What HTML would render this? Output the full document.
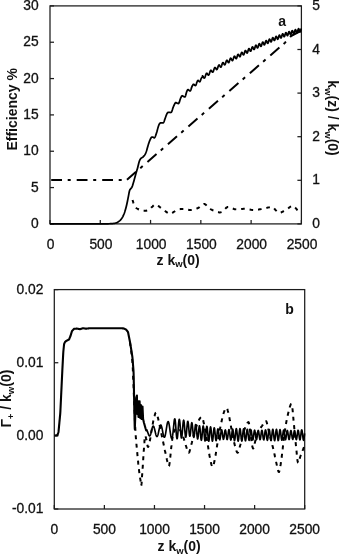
<!DOCTYPE html>
<html><head><meta charset="utf-8"><title>Figure</title>
<style>
html,body{margin:0;padding:0;background:#fff;}
body{width:340px;height:554px;overflow:hidden;}
svg{display:block;}
text{font-family:"Liberation Sans",sans-serif;fill:#111;}
.t{font-size:13.8px;stroke:#111;stroke-width:0.3px;}
.b{font-size:14px;font-weight:bold;}
.ax line,.ax rect{stroke:#1c1c1c;stroke-width:1.25;fill:none;}
.c{fill:none;stroke:#000;stroke-width:2;stroke-linejoin:round;stroke-linecap:butt;}
</style></head><body>
<svg width="340" height="554" viewBox="0 0 340 554">
<rect width="340" height="554" fill="#fff"/>
<g class="ax">
<rect x="50.0" y="5.9" width="251.39999999999998" height="218.0"/>
<line x1="50.0" y1="223.90" x2="54.0" y2="223.90"/><line x1="50.0" y1="187.57" x2="54.0" y2="187.57"/><line x1="50.0" y1="151.23" x2="54.0" y2="151.23"/><line x1="50.0" y1="114.90" x2="54.0" y2="114.90"/><line x1="50.0" y1="78.57" x2="54.0" y2="78.57"/><line x1="50.0" y1="42.23" x2="54.0" y2="42.23"/><line x1="50.0" y1="5.90" x2="54.0" y2="5.90"/><line x1="301.4" y1="223.90" x2="297.4" y2="223.90"/><line x1="301.4" y1="180.30" x2="297.4" y2="180.30"/><line x1="301.4" y1="136.70" x2="297.4" y2="136.70"/><line x1="301.4" y1="93.10" x2="297.4" y2="93.10"/><line x1="301.4" y1="49.50" x2="297.4" y2="49.50"/><line x1="301.4" y1="5.90" x2="297.4" y2="5.90"/><line x1="50.00" y1="223.9" x2="50.00" y2="219.9"/><line x1="100.28" y1="223.9" x2="100.28" y2="219.9"/><line x1="150.56" y1="223.9" x2="150.56" y2="219.9"/><line x1="200.84" y1="223.9" x2="200.84" y2="219.9"/><line x1="251.12" y1="223.9" x2="251.12" y2="219.9"/><line x1="301.40" y1="223.9" x2="301.40" y2="219.9"/>
<rect x="54.3" y="289.6" width="250.39999999999998" height="219.39999999999998"/>
<line x1="54.3" y1="509.00" x2="58.3" y2="509.00"/><line x1="54.3" y1="435.87" x2="58.3" y2="435.87"/><line x1="54.3" y1="362.73" x2="58.3" y2="362.73"/><line x1="54.3" y1="289.60" x2="58.3" y2="289.60"/><line x1="54.30" y1="509.0" x2="54.30" y2="505.0"/><line x1="104.38" y1="509.0" x2="104.38" y2="505.0"/><line x1="154.46" y1="509.0" x2="154.46" y2="505.0"/><line x1="204.54" y1="509.0" x2="204.54" y2="505.0"/><line x1="254.62" y1="509.0" x2="254.62" y2="505.0"/><line x1="304.70" y1="509.0" x2="304.70" y2="505.0"/>
</g>
<text class="t" x="38.6" y="227.9" text-anchor="end">0</text><text class="t" x="38.6" y="191.6" text-anchor="end">5</text><text class="t" x="38.6" y="155.2" text-anchor="end">10</text><text class="t" x="38.6" y="118.9" text-anchor="end">15</text><text class="t" x="38.6" y="82.6" text-anchor="end">20</text><text class="t" x="38.6" y="46.2" text-anchor="end">25</text><text class="t" x="38.6" y="9.9" text-anchor="end">30</text><text class="t" x="312.3" y="227.9">0</text><text class="t" x="312.3" y="184.3">1</text><text class="t" x="312.3" y="140.7">2</text><text class="t" x="312.3" y="97.1">3</text><text class="t" x="312.3" y="53.5">4</text><text class="t" x="312.3" y="9.9">5</text><text class="t" x="50.6" y="248.8" text-anchor="middle">0</text><text class="t" x="100.9" y="248.8" text-anchor="middle">500</text><text class="t" x="151.2" y="248.8" text-anchor="middle">1000</text><text class="t" x="201.4" y="248.8" text-anchor="middle">1500</text><text class="t" x="251.7" y="248.8" text-anchor="middle">2000</text><text class="t" x="302.0" y="248.8" text-anchor="middle">2500</text><text class="t" x="43.4" y="513.3" text-anchor="end">-0.01</text><text class="t" x="43.4" y="440.2" text-anchor="end">0.00</text><text class="t" x="43.4" y="367.0" text-anchor="end">0.01</text><text class="t" x="43.4" y="293.9" text-anchor="end">0.02</text><text class="t" x="54.3" y="534.4" text-anchor="middle">0</text><text class="t" x="104.4" y="534.4" text-anchor="middle">500</text><text class="t" x="154.5" y="534.4" text-anchor="middle">1000</text><text class="t" x="204.5" y="534.4" text-anchor="middle">1500</text><text class="t" x="254.6" y="534.4" text-anchor="middle">2000</text><text class="t" x="304.7" y="534.4" text-anchor="middle">2500</text>
<path class="c" d="M50,180 L126.6,180" stroke-dasharray="10.8 5.7 3 6" stroke-dashoffset="24.3"/>
<path class="c" d="M126.6,180 L285,42.7 L291,36 L301.4,30.6" stroke-dasharray="12 5.6 3.2 6.3" stroke-dashoffset="26.6"/>
<path class="c" d="M132.2,199.0 L132.4,199.6 L132.7,200.5 L133.0,201.5 L133.3,202.6 L133.7,203.6 L134.0,204.5 L134.3,205.2 L134.6,205.9 L134.8,206.4 L135.2,207.0 L135.6,207.5 L136.2,208.0 L137.0,208.5 L137.9,209.0 L138.9,209.5 L139.9,209.9 L141.0,210.3 L142.0,210.5 L143.0,210.7 L144.1,210.7 L145.1,210.8 L146.1,210.7 L147.1,210.5 L148.0,210.3 L148.8,209.9 L149.5,209.4 L150.2,208.8 L150.8,208.2 L151.4,207.5 L152.0,207.0 L152.6,206.5 L153.1,205.9 L153.6,205.3 L154.1,204.9 L154.7,204.5 L155.3,204.4 L156.0,204.5 L156.7,204.8 L157.4,205.3 L158.1,205.8 L158.9,206.4 L159.7,207.0 L160.5,207.6 L161.4,208.3 L162.3,209.0 L163.2,209.7 L164.1,210.4 L165.0,211.0 L165.9,211.6 L166.7,212.2 L167.6,212.8 L168.4,213.3 L169.2,213.6 L170.0,213.8 L170.8,213.7 L171.5,213.4 L172.3,213.0 L173.0,212.4 L173.8,211.9 L174.5,211.5 L175.2,211.1 L175.9,210.7 L176.6,210.3 L177.3,210.0 L178.0,209.6 L178.8,209.4 L179.6,209.2 L180.4,209.1 L181.3,209.0 L182.1,209.0 L183.0,209.0 L184.0,209.0 L185.0,209.1 L186.1,209.3 L187.2,209.6 L188.3,209.8 L189.4,210.0 L190.6,210.0 L191.8,209.9 L193.1,209.6 L194.3,209.3 L195.6,208.9 L196.8,208.5 L198.0,208.0 L199.1,207.4 L200.1,206.6 L201.1,205.7 L202.1,204.9 L203.0,204.3 L203.8,204.0 L204.5,204.0 L205.2,204.3 L205.8,204.8 L206.4,205.4 L206.9,206.0 L207.5,206.5 L208.1,207.0 L208.7,207.5 L209.2,208.0 L209.8,208.5 L210.4,209.0 L211.0,209.4 L211.6,209.7 L212.2,210.0 L212.9,210.3 L213.6,210.5 L214.3,210.8 L215.0,211.0 L215.8,211.3 L216.7,211.6 L217.7,212.0 L218.6,212.2 L219.5,212.4 L220.3,212.4 L221.0,212.2 L221.7,211.9 L222.3,211.5 L222.8,211.0 L223.4,210.5 L224.0,210.0 L224.6,209.5 L225.2,208.9 L225.8,208.3 L226.3,207.7 L227.0,207.3 L227.6,207.0 L228.3,207.0 L229.0,207.1 L229.7,207.4 L230.5,207.7 L231.3,208.0 L232.0,208.3 L232.7,208.5 L233.3,208.7 L234.0,209.0 L234.7,209.2 L235.5,209.3 L236.5,209.4 L237.7,209.4 L239.1,209.3 L240.6,209.1 L242.2,208.9 L243.8,208.8 L245.3,208.8 L246.8,208.9 L248.2,209.2 L249.6,209.4 L251.1,209.7 L252.5,209.9 L254.0,210.0 L255.5,209.9 L257.0,209.8 L258.5,209.6 L260.0,209.3 L261.5,209.1 L263.0,208.8 L264.5,208.5 L266.1,208.1 L267.7,207.6 L269.3,207.3 L270.6,207.0 L271.8,207.0 L272.7,207.2 L273.4,207.6 L274.0,208.2 L274.5,208.8 L275.0,209.4 L275.5,210.0 L276.1,210.6 L276.7,211.2 L277.2,211.8 L277.8,212.3 L278.4,212.8 L279.0,213.0 L279.6,213.0 L280.3,212.9 L281.0,212.6 L281.6,212.2 L282.3,211.8 L283.0,211.5 L283.7,211.2 L284.4,210.9 L285.1,210.5 L285.7,210.1 L286.4,209.8 L287.0,209.4 L287.6,209.0 L288.1,208.6 L288.6,208.1 L289.0,207.7 L289.5,207.3 L290.0,207.0 L290.5,206.7 L291.1,206.4 L291.6,206.1 L292.2,205.9 L292.7,205.9 L293.2,205.9 L293.7,206.1 L294.2,206.5 L294.6,206.9 L295.1,207.5 L295.6,208.0 L296.0,208.5 L296.4,209.0 L296.9,209.5 L297.3,210.1 L297.7,210.6 L298.1,211.1 L298.5,211.5 L298.9,211.8 L299.4,212.1 L299.8,212.3 L300.2,212.5 L300.6,212.7 L300.8,212.8" stroke-dasharray="3.6 4.9" stroke-dashoffset="-1"/>
<path class="c" d="M50.00,223.90 L55.93,223.90 L64.52,223.90 L74.50,223.91 L84.59,223.91 L93.52,223.91 L100.00,223.90 L103.78,223.89 L105.84,223.89 L106.73,223.88 L107.01,223.87 L107.25,223.84 L108.00,223.80 L109.19,223.75 L110.36,223.69 L111.47,223.62 L112.53,223.54 L113.51,223.43 L114.40,223.30 L115.16,223.15 L115.81,223.00 L116.38,222.82 L116.91,222.60 L117.44,222.34 L118.00,222.00 L118.60,221.60 L119.21,221.13 L119.82,220.62 L120.41,220.06 L120.98,219.45 L121.50,218.80 L121.98,218.11 L122.43,217.36 L122.85,216.58 L123.25,215.75 L123.63,214.89 L124.00,214.00 L124.36,213.07 L124.70,212.09 L125.02,211.07 L125.33,210.04 L125.62,209.01 L125.90,208.00 L126.16,207.00 L126.41,206.00 L126.64,205.01 L126.87,204.01 L127.08,203.01 L127.30,202.00 L127.51,200.98 L127.72,199.95 L127.92,198.91 L128.11,197.89 L128.31,196.88 L128.50,195.90 L128.69,194.92 L128.87,193.92 L129.05,192.94 L129.23,192.01 L129.41,191.19 L129.60,190.50 L129.79,189.98 L129.99,189.60 L130.19,189.31 L130.40,189.08 L130.60,188.86 L130.80,188.60 L131.00,188.36 L131.19,188.17 L131.38,187.99 L131.57,187.77 L131.78,187.46 L132.00,187.00 L132.24,186.39 L132.49,185.67 L132.75,184.86 L133.02,183.96 L133.31,183.01 L133.60,182.00 L133.91,180.91 L134.24,179.72 L134.57,178.46 L134.92,177.18 L135.26,175.91 L135.60,174.70 L135.94,173.53 L136.29,172.36 L136.63,171.21 L136.97,170.08 L137.30,168.98 L137.60,167.90 L137.88,166.83 L138.14,165.76 L138.39,164.71 L138.63,163.72 L138.87,162.81 L139.10,162.00 L139.33,161.31 L139.54,160.72 L139.76,160.21 L139.97,159.76 L140.18,159.36 L140.40,159.00 L140.62,158.70 L140.85,158.47 L141.08,158.29 L141.31,158.14 L141.55,157.98 L141.80,157.80 L142.07,157.60 L142.35,157.40 L142.64,157.20 L142.94,156.99 L143.22,156.76 L143.50,156.50 L143.76,156.22 L144.01,155.94 L144.26,155.64 L144.51,155.30 L144.75,154.93 L145.00,154.50 L145.24,154.04 L145.48,153.57 L145.72,153.06 L145.96,152.47 L146.22,151.80 L146.50,151.00 L146.81,150.01 L147.15,148.85 L147.50,147.59 L147.85,146.32 L148.19,145.13 L148.50,144.10 L148.78,143.24 L149.04,142.47 L149.28,141.79 L149.52,141.16 L149.76,140.57 L150.00,140.00 L150.25,139.44 L150.50,138.90 L150.75,138.40 L151.00,137.96 L151.25,137.58 L151.50,137.30 L151.75,137.13 L151.99,137.06 L152.24,137.06 L152.49,137.10 L152.74,137.16 L153.00,137.20 L153.27,137.30 L153.55,137.48 L153.83,137.68 L154.12,137.82 L154.41,137.82 L154.70,137.60 L154.99,137.15 L155.29,136.53 L155.58,135.76 L155.88,134.90 L156.19,133.96 L156.50,133.00 L156.83,131.92 L157.17,130.69 L157.52,129.39 L157.86,128.11 L158.19,126.95 L158.50,126.00 L158.78,125.26 L159.03,124.67 L159.27,124.19 L159.50,123.80 L159.74,123.48 L160.00,123.20 L160.27,122.99 L160.55,122.88 L160.83,122.84 L161.12,122.83 L161.41,122.83 L161.70,122.80 L161.99,122.81 L162.29,122.88 L162.59,122.96 L162.90,122.99 L163.20,122.89 L163.50,122.60 L163.80,122.08 L164.11,121.37 L164.42,120.54 L164.72,119.65 L165.02,118.78 L165.30,118.00 L165.57,117.27 L165.83,116.53 L166.09,115.81 L166.33,115.13 L166.57,114.52 L166.80,114.00 L167.01,113.58 L167.20,113.23 L167.38,112.95 L167.57,112.73 L167.77,112.55 L168.00,112.40 L168.27,112.31 L168.56,112.30 L168.87,112.33 L169.19,112.37 L169.50,112.40 L169.80,112.40 L170.09,112.41 L170.37,112.47 L170.65,112.51 L170.93,112.49 L171.21,112.34 L171.50,112.00 L171.79,111.42 L172.08,110.64 L172.38,109.74 L172.67,108.78 L172.98,107.84 L173.30,107.00 L173.64,106.20 L173.99,105.37 L174.35,104.56 L174.71,103.83 L175.06,103.22 L175.40,102.80 L175.72,102.61 L176.03,102.61 L176.33,102.74 L176.62,102.93 L176.91,103.10 L177.20,103.20 L177.49,103.28 L177.78,103.40 L178.06,103.52 L178.34,103.56 L178.62,103.48 L178.90,103.20 L179.17,102.67 L179.44,101.91 L179.71,101.02 L179.98,100.09 L180.24,99.22 L180.50,98.50 L180.75,97.89 L181.00,97.33 L181.25,96.81 L181.50,96.37 L181.75,96.03 L182.00,95.80 L182.26,95.73 L182.53,95.80 L182.79,95.97 L183.06,96.19 L183.33,96.38 L183.60,96.50 L183.87,96.61 L184.14,96.75 L184.41,96.88 L184.68,96.94 L184.94,96.86 L185.20,96.60 L185.45,96.08 L185.69,95.33 L185.92,94.46 L186.15,93.54 L186.37,92.69 L186.60,92.00 L186.82,91.43 L187.04,90.91 L187.26,90.46 L187.47,90.07 L187.68,89.78 L187.90,89.60 L188.12,89.57 L188.33,89.69 L188.55,89.89 L188.77,90.14 L188.98,90.36 L189.20,90.50 L189.41,90.61 L189.63,90.75 L189.84,90.86 L190.05,90.91 L190.27,90.84 L190.50,90.60 L190.74,90.14 L190.99,89.47 L191.24,88.69 L191.49,87.88 L191.75,87.12 L192.00,86.50 L192.25,85.99 L192.51,85.51 L192.77,85.09 L193.02,84.73 L193.27,84.47 L193.50,84.30 L193.72,84.28 L193.93,84.40 L194.13,84.61 L194.32,84.84 L194.51,85.06 L194.70,85.20 L194.89,85.30 L195.07,85.42 L195.25,85.51 L195.43,85.55 L195.61,85.49 L195.80,85.30 L196.00,84.93 L196.20,84.39 L196.41,83.76 L196.61,83.10 L196.81,82.49 L197.00,82.00 L197.18,81.61 L197.35,81.25 L197.51,80.94 L197.67,80.69 L197.84,80.50 L198.00,80.40 L198.17,80.41 L198.33,80.54 L198.50,80.73 L198.67,80.95 L198.83,81.16 L199.00,81.30 L199.16,81.42 L199.33,81.57 L199.49,81.70 L199.65,81.77 L199.82,81.75 L200.00,81.60 L200.19,81.26 L200.39,80.76 L200.59,80.17 L200.79,79.55 L201.00,78.97 L201.20,78.50 L201.41,78.13 L201.64,77.80 L201.87,77.51 L202.09,77.26 L202.27,77.06 L202.40,76.90 L202.50,75.85 L202.70,75.98 L202.90,76.21 L203.10,76.52 L203.30,76.89 L203.50,77.26 L203.70,77.60 L203.90,77.87 L204.10,78.04 L204.30,78.09 L204.50,77.99 L204.70,77.74 L204.90,77.37 L205.10,76.87 L205.30,76.30 L205.50,75.69 L205.70,75.08 L205.90,74.51 L206.10,74.01 L206.30,73.63 L206.50,73.38 L206.70,73.27 L206.90,73.29 L207.10,73.45 L207.30,73.70 L207.50,74.01 L207.70,74.35 L207.90,74.67 L208.10,74.93 L208.30,75.09 L208.50,75.13 L208.70,75.03 L208.90,74.78 L209.10,74.40 L209.30,73.90 L209.50,73.33 L209.70,72.70 L209.90,72.08 L210.10,71.50 L210.30,71.00 L210.50,70.62 L210.70,70.38 L210.90,70.28 L211.10,70.33 L211.30,70.50 L211.50,70.77 L211.70,71.11 L211.90,71.46 L212.10,71.78 L212.30,72.04 L212.50,72.18 L212.70,72.20 L212.90,72.06 L213.10,71.78 L213.30,71.37 L213.50,70.84 L213.70,70.24 L213.90,69.61 L214.10,69.00 L214.30,68.45 L214.50,68.00 L214.70,67.69 L214.90,67.52 L215.10,67.51 L215.30,67.64 L215.50,67.89 L215.70,68.22 L215.90,68.60 L216.10,68.97 L216.30,69.28 L216.50,69.50 L216.70,69.59 L216.90,69.52 L217.10,69.30 L217.30,68.94 L217.50,68.44 L217.70,67.86 L217.90,67.24 L218.10,66.61 L218.30,66.04 L218.50,65.56 L218.70,65.21 L218.90,65.02 L219.10,64.99 L219.30,65.10 L219.50,65.35 L219.70,65.69 L219.90,66.08 L220.10,66.46 L220.30,66.79 L220.50,67.03 L220.70,67.13 L220.90,67.08 L221.10,66.86 L221.30,66.50 L221.50,66.00 L221.70,65.41 L221.90,64.77 L222.10,64.14 L222.30,63.57 L222.50,63.11 L222.70,62.78 L222.90,62.61 L223.10,62.61 L223.30,62.77 L223.50,63.05 L223.70,63.42 L223.90,63.83 L224.10,64.22 L224.30,64.54 L224.50,64.75 L224.70,64.82 L224.90,64.72 L225.10,64.45 L225.30,64.02 L225.50,63.48 L225.70,62.86 L225.90,62.21 L226.10,61.59 L226.30,61.05 L226.50,60.64 L226.70,60.39 L226.90,60.30 L227.10,60.39 L227.30,60.63 L227.50,60.98 L227.70,61.39 L227.90,61.81 L228.10,62.18 L228.30,62.45 L228.50,62.59 L228.70,62.55 L228.90,62.34 L229.10,61.97 L229.30,61.46 L229.50,60.85 L229.70,60.20 L229.90,59.57 L230.10,59.01 L230.30,58.57 L230.50,58.29 L230.70,58.18 L230.90,58.25 L231.10,58.48 L231.30,58.84 L231.50,59.26 L231.70,59.70 L231.90,60.10 L232.10,60.40 L232.30,60.56 L232.50,60.54 L232.70,60.35 L232.90,59.98 L233.10,59.46 L233.30,58.85 L233.50,58.19 L233.70,57.56 L233.90,57.00 L234.10,56.56 L234.30,56.30 L234.50,56.21 L234.70,56.31 L234.90,56.57 L235.10,56.95 L235.30,57.39 L235.50,57.84 L235.70,58.23 L235.90,58.51 L236.10,58.64 L236.30,58.58 L236.50,58.33 L236.70,57.91 L236.90,57.35 L237.10,56.70 L237.30,56.03 L237.50,55.41 L237.70,54.88 L237.90,54.50 L238.10,54.30 L238.30,54.30 L238.50,54.47 L238.70,54.80 L238.90,55.23 L239.10,55.70 L239.30,56.14 L239.50,56.49 L239.70,56.69 L239.90,56.72 L240.10,56.55 L240.30,56.20 L240.50,55.68 L240.70,55.05 L240.90,54.37 L241.10,53.71 L241.30,53.13 L241.50,52.70 L241.70,52.44 L241.90,52.38 L242.10,52.51 L242.30,52.81 L242.50,53.23 L242.70,53.70 L242.90,54.17 L243.10,54.55 L243.30,54.79 L243.50,54.85 L243.70,54.72 L243.90,54.38 L244.10,53.87 L244.30,53.24 L244.50,52.55 L244.70,51.88 L244.90,51.29 L245.10,50.83 L245.30,50.57 L245.50,50.51 L245.70,50.65 L245.90,50.97 L246.10,51.40 L246.30,51.89 L246.50,52.36 L246.70,52.74 L246.90,52.98 L247.10,53.02 L247.30,52.85 L247.50,52.48 L247.70,51.94 L247.90,51.28 L248.10,50.58 L248.30,49.91 L248.50,49.34 L248.70,48.93 L248.90,48.71 L249.10,48.72 L249.30,48.92 L249.50,49.29 L249.70,49.76 L249.90,50.27 L250.10,50.72 L250.30,51.07 L250.50,51.23 L250.70,51.19 L250.90,50.93 L251.10,50.47 L251.30,49.86 L251.50,49.17 L251.70,48.46 L251.90,47.82 L252.10,47.31 L252.30,47.00 L252.50,46.90 L252.70,47.02 L252.90,47.32 L253.10,47.77 L253.30,48.27 L253.50,48.77 L253.70,49.18 L253.90,49.43 L254.10,49.48 L254.30,49.31 L254.50,48.93 L254.70,48.37 L254.90,47.70 L255.10,46.98 L255.30,46.31 L255.50,45.75 L255.70,45.37 L255.90,45.21 L256.10,45.27 L256.30,45.53 L256.50,45.95 L256.70,46.47 L256.90,46.99 L257.10,47.45 L257.30,47.76 L257.50,47.88 L257.70,47.78 L257.90,47.45 L258.10,46.94 L258.30,46.29 L258.50,45.58 L258.70,44.89 L258.90,44.30 L259.10,43.88 L259.30,43.67 L259.50,43.69 L259.70,43.93 L259.90,44.33 L260.10,44.85 L260.30,45.38 L260.50,45.86 L260.70,46.21 L260.90,46.36 L261.10,46.29 L261.30,45.99 L261.50,45.49 L261.70,44.84 L261.90,44.13 L262.10,43.42 L262.30,42.82 L262.50,42.38 L262.70,42.15 L262.90,42.16 L263.10,42.39 L263.30,42.80 L263.50,43.31 L263.70,43.86 L263.90,44.35 L264.10,44.70 L264.30,44.86 L264.50,44.78 L264.70,44.48 L264.90,43.97 L265.10,43.31 L265.30,42.59 L265.50,41.88 L265.70,41.28 L265.90,40.85 L266.10,40.64 L266.30,40.66 L266.50,40.91 L266.70,41.33 L266.90,41.86 L267.10,42.42 L267.30,42.90 L267.50,43.24 L267.70,43.37 L267.90,43.26 L268.10,42.92 L268.30,42.38 L268.50,41.70 L268.70,40.97 L268.90,40.27 L269.10,39.68 L269.30,39.29 L269.50,39.12 L269.70,39.20 L269.90,39.49 L270.10,39.95 L270.30,40.51 L270.50,41.06 L270.70,41.52 L270.90,41.81 L271.10,41.88 L271.30,41.72 L271.50,41.31 L271.70,40.72 L271.90,40.01 L272.10,39.28 L272.30,38.60 L272.50,38.07 L272.70,37.75 L272.90,37.67 L273.10,37.83 L273.30,38.20 L273.50,38.72 L273.70,39.30 L273.90,39.84 L274.10,40.26 L274.30,40.48 L274.50,40.47 L274.70,40.21 L274.90,39.73 L275.10,39.08 L275.30,38.35 L275.50,37.62 L275.70,37.00 L275.90,36.56 L276.10,36.36 L276.30,36.40 L276.50,36.68 L276.70,37.14 L276.90,37.71 L277.10,38.29 L277.30,38.79 L277.50,39.13 L277.70,39.24 L277.90,39.10 L278.10,38.71 L278.30,38.12 L278.50,37.41 L278.70,36.66 L278.90,35.98 L279.10,35.45 L279.30,35.14 L279.50,35.08 L279.70,35.28 L279.90,35.68 L280.10,36.23 L280.30,36.82 L280.50,37.37 L280.70,37.78 L280.90,37.98 L281.10,37.92 L281.30,37.61 L281.50,37.08 L281.70,36.39 L281.90,35.64 L282.10,34.92 L282.30,34.33 L282.50,33.95 L282.70,33.82 L282.90,33.95 L283.10,34.30 L283.30,34.83 L283.50,35.43 L283.70,36.01 L283.90,36.46 L284.10,36.72 L284.30,36.72 L284.50,36.46 L284.70,35.97 L284.90,35.30 L285.10,34.55 L285.30,33.82 L285.50,33.20 L285.70,32.78 L285.90,32.62 L286.10,32.72 L286.30,33.06 L286.50,33.58 L286.70,34.20 L286.90,34.80 L287.10,35.29 L287.30,35.58 L287.50,35.62 L287.70,35.39 L287.90,34.92 L288.10,34.27 L288.30,33.52 L288.50,32.79 L288.70,32.17 L288.90,31.75 L289.10,31.58 L289.30,31.68 L289.50,32.04 L289.70,32.57 L289.90,33.20 L290.10,33.81 L290.30,34.31 L290.50,34.61 L290.70,34.64 L290.90,34.40 L291.10,33.92 L291.30,33.25 L291.50,32.50 L291.70,31.76 L291.90,31.15 L292.10,30.74 L292.30,30.60 L292.50,30.74 L292.70,31.12 L292.90,31.68 L293.10,32.32 L293.30,32.93 L293.50,33.41 L293.70,33.67 L293.90,33.66 L294.10,33.38 L294.30,32.85 L294.50,32.15 L294.70,31.38 L294.90,30.65 L295.10,30.07 L295.30,29.72 L295.50,29.64 L295.70,29.84 L295.90,30.27 L296.10,30.87 L296.30,31.52 L296.50,32.12 L296.70,32.55 L296.90,32.74 L297.10,32.65 L297.30,32.29 L297.50,31.69 L297.70,30.96 L297.90,30.18 L298.10,29.48 L298.30,28.96 L298.50,28.70 L298.70,28.72 L298.90,29.01 L299.10,29.53 L299.30,30.17 L299.50,30.83 L299.70,31.39 L299.90,31.75 L300.10,31.85 L300.30,31.66 L300.50,31.20 L300.70,30.55 L300.90,29.80 L301.10,29.06 L301.30,28.46" style="stroke-width:1.75"/>
<path class="c" d="M130.0,342.0 L130.1,343.1 L130.3,344.6 L130.6,346.4 L130.8,348.3 L131.1,350.2 L131.3,352.0 L131.5,353.5 L131.7,354.9 L131.9,356.2 L132.0,357.7 L132.2,359.6 L132.4,362.0 L132.6,365.1 L132.8,368.6 L133.0,372.6 L133.1,376.7 L133.3,380.9 L133.5,385.0 L133.7,389.1 L133.8,393.3 L134.0,397.6 L134.2,401.8 L134.3,406.0 L134.5,410.0 L134.7,413.9 L134.8,417.7 L135.0,421.4 L135.1,425.1 L135.3,428.6 L135.5,432.0 L135.7,435.2 L135.9,438.2 L136.2,441.1 L136.4,444.0 L136.7,446.9 L137.0,450.0 L137.3,453.3 L137.6,456.9 L138.0,460.4 L138.3,463.9 L138.7,467.2 L139.0,470.0 L139.3,472.4 L139.6,474.6 L139.9,476.5 L140.1,478.1 L140.4,479.6 L140.6,481.0 L140.8,482.3 L140.9,483.6 L141.0,484.7 L141.1,485.4 L141.2,485.8 L141.3,485.5 L141.4,484.7 L141.6,483.4 L141.7,481.7 L141.8,479.5 L142.0,476.9 L142.2,474.0 L142.5,470.3 L142.8,465.9 L143.1,461.0 L143.4,456.2 L143.7,451.7 L144.0,448.0 L144.2,445.0 L144.4,442.4 L144.5,440.1 L144.7,438.3 L144.8,436.9 L145.0,436.0 L145.2,435.7 L145.5,436.0 L145.7,436.8 L146.0,437.9 L146.2,439.0 L146.5,440.0 L146.7,441.2 L147.0,442.6 L147.2,444.2 L147.5,445.6 L147.7,446.6 L148.0,447.0 L148.3,446.7 L148.6,445.9 L149.0,444.7 L149.3,443.2 L149.7,441.6 L150.0,440.0 L150.3,438.3 L150.7,436.3 L151.0,434.2 L151.3,432.0 L151.7,429.9 L152.0,428.0 L152.3,426.2 L152.7,424.3 L153.0,422.6 L153.3,420.9 L153.7,419.4 L154.0,418.0 L154.3,416.7 L154.7,415.5 L155.0,414.3 L155.3,413.4 L155.7,412.8 L156.0,412.6 L156.3,412.8 L156.6,413.3 L156.9,414.1 L157.3,415.2 L157.6,416.5 L158.0,418.0 L158.4,419.8 L158.9,422.0 L159.4,424.5 L160.0,427.0 L160.5,429.6 L161.0,432.0 L161.5,434.3 L162.0,436.7 L162.5,439.0 L163.0,441.3 L163.5,443.7 L164.0,446.0 L164.5,448.4 L165.0,451.0 L165.6,453.5 L166.1,455.9 L166.6,458.1 L167.0,460.0 L167.4,461.7 L167.8,463.2 L168.1,464.6 L168.4,465.6 L168.7,466.1 L169.0,466.0 L169.3,465.2 L169.5,463.7 L169.8,461.8 L170.0,459.5 L170.3,457.2 L170.5,455.0 L170.7,452.8 L171.0,450.4 L171.2,447.9 L171.5,445.4 L171.7,443.1 L172.0,441.0 L172.3,439.2 L172.6,437.4 L172.9,435.9 L173.2,434.4 L173.6,433.2 L174.0,432.0 L174.4,431.0 L174.9,430.1 L175.4,429.3 L176.0,428.7 L176.5,428.3 L177.0,428.0 L177.5,427.9 L178.0,428.1 L178.5,428.4 L179.0,428.8 L179.5,429.4 L180.0,430.0 L180.5,430.7 L181.0,431.6 L181.5,432.5 L182.0,433.6 L182.5,434.7 L183.0,436.0 L183.5,437.5 L184.0,439.2 L184.5,440.9 L185.0,442.8 L185.5,444.5 L186.0,446.0 L186.5,447.5 L186.9,449.0 L187.4,450.5 L187.8,451.7 L188.3,452.5 L188.7,452.8 L189.1,452.5 L189.5,451.7 L189.8,450.6 L190.2,449.2 L190.6,447.6 L191.0,446.0 L191.4,444.3 L191.9,442.4 L192.4,440.3 L192.9,438.2 L193.4,436.1 L194.0,434.0 L194.6,431.9 L195.3,429.7 L196.0,427.6 L196.7,425.5 L197.3,423.6 L198.0,422.0 L198.7,420.6 L199.3,419.4 L200.0,418.3 L200.6,417.5 L201.2,417.1 L201.7,417.0 L202.2,417.4 L202.5,418.1 L202.9,419.2 L203.2,420.6 L203.6,422.2 L204.0,424.0 L204.5,426.1 L204.9,428.6 L205.5,431.3 L206.0,434.2 L206.5,437.1 L207.0,440.0 L207.5,443.0 L208.0,446.2 L208.5,449.4 L209.0,452.6 L209.5,455.5 L210.0,458.0 L210.5,460.2 L210.9,462.3 L211.3,464.2 L211.8,465.7 L212.2,466.6 L212.6,467.0 L213.0,466.6 L213.4,465.7 L213.8,464.2 L214.2,462.3 L214.6,460.2 L215.0,458.0 L215.5,455.5 L216.0,452.6 L216.5,449.4 L217.0,446.2 L217.5,443.0 L218.0,440.0 L218.5,437.2 L219.0,434.4 L219.5,431.6 L220.0,429.0 L220.5,426.4 L221.0,424.0 L221.5,421.7 L222.0,419.4 L222.5,417.2 L223.0,415.3 L223.5,413.5 L224.0,412.0 L224.5,410.7 L224.9,409.6 L225.4,408.8 L225.8,408.1 L226.3,407.9 L226.7,408.0 L227.1,408.5 L227.5,409.5 L227.8,410.8 L228.2,412.3 L228.6,414.1 L229.0,416.0 L229.5,418.2 L229.9,420.8 L230.5,423.6 L231.0,426.5 L231.5,429.4 L232.0,432.0 L232.5,434.5 L233.0,437.1 L233.5,439.6 L234.0,441.9 L234.5,444.1 L235.0,446.0 L235.5,447.7 L235.9,449.3 L236.3,450.7 L236.8,451.8 L237.2,452.5 L237.6,452.8 L238.0,452.5 L238.4,451.7 L238.8,450.6 L239.2,449.2 L239.6,447.6 L240.0,446.0 L240.5,444.3 L241.0,442.2 L241.5,440.1 L242.0,437.9 L242.5,435.8 L243.0,434.0 L243.5,432.4 L244.0,430.9 L244.5,429.5 L245.0,428.2 L245.5,427.0 L246.0,426.0 L246.5,425.0 L247.0,423.9 L247.4,423.0 L247.9,422.3 L248.3,422.1 L248.7,422.4 L249.0,423.4 L249.3,425.0 L249.6,427.1 L249.9,429.4 L250.2,431.7 L250.5,434.0 L250.9,436.5 L251.3,439.5 L251.7,442.5 L252.1,445.3 L252.6,447.4 L253.0,448.5 L253.4,448.4 L253.8,447.4 L254.2,445.7 L254.7,443.6 L255.1,441.7 L255.5,440.0 L255.9,438.6 L256.3,437.2 L256.7,435.8 L257.1,434.5 L257.5,433.2 L258.0,432.0 L258.6,430.9 L259.2,429.8 L259.9,428.8 L260.6,427.9 L261.3,426.9 L262.0,426.0 L262.7,424.9 L263.4,423.7 L264.1,422.6 L264.8,421.6 L265.4,421.0 L266.0,421.0 L266.5,421.7 L266.9,422.9 L267.3,424.6 L267.7,426.4 L268.1,428.3 L268.5,430.0 L268.9,431.6 L269.3,433.2 L269.7,434.8 L270.1,436.5 L270.6,438.2 L271.0,440.0 L271.5,441.9 L272.0,443.8 L272.5,445.8 L273.0,447.8 L273.5,449.9 L274.0,452.0 L274.5,454.3 L275.0,456.8 L275.6,459.4 L276.1,461.9 L276.6,464.1 L277.0,466.0 L277.4,467.6 L277.7,469.2 L278.1,470.5 L278.4,471.5 L278.7,472.0 L279.0,472.0 L279.3,471.3 L279.7,470.1 L280.0,468.4 L280.3,466.4 L280.7,464.2 L281.0,462.0 L281.3,459.7 L281.7,457.1 L282.0,454.4 L282.3,451.6 L282.7,448.7 L283.0,446.0 L283.3,443.3 L283.6,440.7 L283.9,438.0 L284.3,435.3 L284.6,432.7 L285.0,430.0 L285.4,427.3 L285.9,424.4 L286.4,421.6 L286.9,418.9 L287.5,416.3 L288.0,414.0 L288.6,411.7 L289.2,409.3 L289.8,407.0 L290.4,405.2 L291.0,404.1 L291.5,404.0 L291.9,405.0 L292.3,407.0 L292.6,409.8 L292.9,413.0 L293.2,416.5 L293.5,420.0 L293.9,423.9 L294.3,428.3 L294.8,433.0 L295.2,437.7 L295.6,442.1 L296.0,446.0 L296.4,449.6 L296.7,453.1 L297.0,456.3 L297.3,459.1 L297.6,461.3 L298.0,462.6 L298.4,462.9 L298.8,462.2 L299.2,460.9 L299.6,459.2 L300.0,457.5 L300.5,456.0 L301.1,454.5 L301.7,452.8 L302.4,451.1 L303.1,449.4 L303.6,448.0 L304.0,447.0" stroke-dasharray="4 4.5"/>
<path class="c" d="M54.50,435.50 L54.60,435.49 L54.70,435.49 L54.80,435.48 L54.90,435.47 L55.00,435.47 L55.10,435.46 L55.20,435.45 L55.30,435.44 L55.40,435.44 L55.50,435.43 L55.60,435.42 L55.70,435.42 L55.80,435.41 L55.90,435.40 L56.00,435.40 L56.10,435.39 L56.20,435.38 L56.30,435.38 L56.40,435.37 L56.50,435.36 L56.60,435.36 L56.70,435.35 L56.80,435.34 L56.90,435.33 L57.00,435.33 L57.10,435.32 L57.20,435.31 L57.30,435.31 L57.40,435.20 L57.50,435.00 L57.60,434.70 L57.70,434.40 L57.80,434.10 L57.90,433.80 L58.00,433.50 L58.10,433.20 L58.20,432.90 L58.30,432.60 L58.40,432.30 L58.50,431.75 L58.60,430.94 L58.70,429.89 L58.80,428.83 L58.90,427.78 L59.00,426.72 L59.10,425.67 L59.20,424.61 L59.30,423.56 L59.40,422.50 L59.50,421.44 L59.60,420.39 L59.70,419.33 L59.80,418.28 L59.90,417.22 L60.00,416.17 L60.10,415.11 L60.20,414.06 L60.30,412.65 L60.40,410.90 L60.50,408.81 L60.60,406.71 L60.70,404.62 L60.80,402.52 L60.90,400.43 L61.00,398.33 L61.10,396.24 L61.20,394.14 L61.30,392.05 L61.40,389.95 L61.50,387.86 L61.60,385.76 L61.70,383.67 L61.80,381.57 L61.90,379.48 L62.00,377.38 L62.10,375.29 L62.20,373.19 L62.30,371.10 L62.40,369.07 L62.50,367.11 L62.60,365.22 L62.70,363.33 L62.80,361.44 L62.90,359.56 L63.00,357.67 L63.10,355.78 L63.20,353.89 L63.30,352.30 L63.40,351.00 L63.50,350.00 L63.60,349.00 L63.70,348.00 L63.80,347.00 L63.90,346.00 L64.00,345.00 L64.10,344.26 L64.20,343.78 L64.30,343.56 L64.40,343.33 L64.50,343.11 L64.60,342.89 L64.70,342.67 L64.80,342.44 L64.90,342.22 L65.00,342.05 L65.10,341.92 L65.20,341.83 L65.30,341.75 L65.40,341.67 L65.50,341.58 L65.60,341.50 L65.70,341.42 L65.80,341.33 L65.90,341.25 L66.00,341.17 L66.10,341.08 L66.20,341.01 L66.30,340.94 L66.40,340.89 L66.50,340.83 L66.60,340.78 L66.70,340.72 L66.80,340.67 L66.90,340.61 L67.00,340.56 L67.10,340.50 L67.20,340.45 L67.30,340.39 L67.40,340.34 L67.50,340.28 L67.60,340.23 L67.70,340.17 L67.80,340.12 L67.90,340.06 L68.00,340.01 L68.10,339.95 L68.20,339.90 L68.30,339.84 L68.40,339.79 L68.50,339.73 L68.60,339.68 L68.70,339.62 L68.80,339.57 L68.90,339.51 L69.00,339.46 L69.10,339.34 L69.20,339.16 L69.30,338.91 L69.40,338.67 L69.50,338.43 L69.60,338.19 L69.70,337.94 L69.80,337.70 L69.90,337.46 L70.00,337.21 L70.10,336.97 L70.20,336.73 L70.30,336.49 L70.40,336.24 L70.50,335.97 L70.60,335.67 L70.70,335.33 L70.80,335.00 L70.90,334.67 L71.00,334.33 L71.10,334.00 L71.20,333.67 L71.30,333.33 L71.40,333.00 L71.50,332.67 L71.60,332.33 L71.70,332.00 L71.80,331.67 L71.90,331.33 L72.00,331.08 L72.10,330.90 L72.20,330.79 L72.30,330.69 L72.40,330.58 L72.50,330.48 L72.60,330.37 L72.70,330.27 L72.80,330.16 L72.90,330.06 L73.00,329.95 L73.10,329.85 L73.20,329.74 L73.30,329.64 L73.40,329.53 L73.50,329.43 L73.60,329.32 L73.70,329.22 L73.80,329.11 L73.90,329.01 L74.00,328.90 L74.10,328.83 L74.20,328.79 L74.30,328.79 L74.40,328.78 L74.50,328.77 L74.60,328.77 L74.70,328.76 L74.80,328.75 L74.90,328.74 L75.00,328.74 L75.10,328.73 L75.20,328.72 L75.30,328.72 L75.40,328.71 L75.50,328.70 L75.60,328.70 L75.70,328.69 L75.80,328.68 L75.90,328.68 L76.00,328.67 L76.10,328.66 L76.20,328.66 L76.30,328.65 L76.40,328.64 L76.50,328.63 L76.60,328.63 L76.70,328.62 L76.80,328.61 L76.90,328.61 L77.00,328.61 L77.10,328.62 L77.20,328.64 L77.30,328.66 L77.40,328.68 L77.50,328.70 L77.60,328.72 L77.70,328.74 L77.80,328.76 L77.90,328.78 L78.00,328.80 L78.10,328.82 L78.20,328.84 L78.30,328.86 L78.40,328.88 L78.50,328.90 L78.60,328.92 L78.70,328.94 L78.80,328.96 L78.90,328.98 L79.00,329.00 L79.10,329.02 L79.20,329.04 L79.30,329.06 L79.40,329.08 L79.50,329.10 L79.60,329.12 L79.70,329.14 L79.80,329.16 L79.90,329.18 L80.00,329.18 L80.10,329.17 L80.20,329.13 L80.30,329.10 L80.40,329.07 L80.50,329.03 L80.60,329.00 L80.70,328.97 L80.80,328.93 L80.90,328.90 L81.00,328.87 L81.10,328.83 L81.20,328.80 L81.30,328.77 L81.40,328.73 L81.50,328.70 L81.60,328.67 L81.70,328.63 L81.80,328.60 L81.90,328.57 L82.00,328.53 L82.10,328.50 L82.20,328.47 L82.30,328.43 L82.40,328.40 L82.50,328.37 L82.60,328.33 L82.70,328.30 L82.80,328.27 L82.90,328.23 L83.00,328.22 L83.10,328.22 L83.20,328.23 L83.30,328.25 L83.40,328.27 L83.50,328.28 L83.60,328.30 L83.70,328.32 L83.80,328.33 L83.90,328.35 L84.00,328.37 L84.10,328.38 L84.20,328.40 L84.30,328.42 L84.40,328.43 L84.50,328.45 L84.60,328.47 L84.70,328.48 L84.80,328.50 L84.90,328.52 L85.00,328.53 L85.10,328.55 L85.20,328.57 L85.30,328.58 L85.40,328.60 L85.50,328.62 L85.60,328.63 L85.70,328.65 L85.80,328.67 L85.90,328.68 L86.00,328.69 L86.10,328.69 L86.20,328.67 L86.30,328.66 L86.40,328.65 L86.50,328.64 L86.60,328.62 L86.70,328.61 L86.80,328.60 L86.90,328.59 L87.00,328.57 L87.10,328.56 L87.20,328.55 L87.30,328.54 L87.40,328.52 L87.50,328.51 L87.60,328.50 L87.70,328.49 L87.80,328.47 L87.90,328.46 L88.00,328.45 L88.10,328.44 L88.20,328.42 L88.30,328.41 L88.40,328.40 L88.50,328.39 L88.60,328.37 L88.70,328.36 L88.80,328.35 L88.90,328.34 L89.00,328.32 L89.10,328.31 L89.20,328.30 L89.30,328.29 L89.40,328.27 L89.50,328.26 L89.60,328.25 L89.70,328.24 L89.80,328.22 L89.90,328.21 L90.00,328.20 L90.10,328.20 L90.20,328.20 L90.30,328.20 L90.40,328.20 L90.50,328.20 L90.60,328.21 L90.70,328.21 L90.80,328.21 L90.90,328.21 L91.00,328.21 L91.10,328.21 L91.20,328.21 L91.30,328.21 L91.40,328.21 L91.50,328.21 L91.60,328.22 L91.70,328.22 L91.80,328.22 L91.90,328.22 L92.00,328.22 L92.10,328.22 L92.20,328.22 L92.30,328.22 L92.40,328.22 L92.50,328.22 L92.60,328.23 L92.70,328.23 L92.80,328.23 L92.90,328.23 L93.00,328.23 L93.10,328.23 L93.20,328.23 L93.30,328.23 L93.40,328.23 L93.50,328.23 L93.60,328.24 L93.70,328.24 L93.80,328.24 L93.90,328.24 L94.00,328.24 L94.10,328.24 L94.20,328.24 L94.30,328.24 L94.40,328.24 L94.50,328.25 L94.60,328.25 L94.70,328.25 L94.80,328.25 L94.90,328.25 L95.00,328.25 L95.10,328.25 L95.20,328.25 L95.30,328.25 L95.40,328.25 L95.50,328.25 L95.60,328.26 L95.70,328.26 L95.80,328.26 L95.90,328.26 L96.00,328.26 L96.10,328.26 L96.20,328.26 L96.30,328.26 L96.40,328.26 L96.50,328.26 L96.60,328.27 L96.70,328.27 L96.80,328.27 L96.90,328.27 L97.00,328.27 L97.10,328.27 L97.20,328.27 L97.30,328.27 L97.40,328.27 L97.50,328.27 L97.60,328.28 L97.70,328.28 L97.80,328.28 L97.90,328.28 L98.00,328.28 L98.10,328.28 L98.20,328.28 L98.30,328.28 L98.40,328.28 L98.50,328.28 L98.60,328.29 L98.70,328.29 L98.80,328.29 L98.90,328.29 L99.00,328.29 L99.10,328.29 L99.20,328.29 L99.30,328.29 L99.40,328.29 L99.50,328.29 L99.60,328.30 L99.70,328.30 L99.80,328.30 L99.90,328.30 L100.00,328.30 L100.10,328.30 L100.20,328.30 L100.30,328.30 L100.40,328.30 L100.50,328.30 L100.60,328.30 L100.70,328.30 L100.80,328.30 L100.90,328.30 L101.00,328.30 L101.10,328.30 L101.20,328.30 L101.30,328.30 L101.40,328.30 L101.50,328.30 L101.60,328.30 L101.70,328.30 L101.80,328.30 L101.90,328.30 L102.00,328.30 L102.10,328.30 L102.20,328.30 L102.30,328.30 L102.40,328.30 L102.50,328.30 L102.60,328.30 L102.70,328.30 L102.80,328.30 L102.90,328.30 L103.00,328.30 L103.10,328.30 L103.20,328.30 L103.30,328.30 L103.40,328.30 L103.50,328.30 L103.60,328.30 L103.70,328.30 L103.80,328.30 L103.90,328.30 L104.00,328.30 L104.10,328.30 L104.20,328.30 L104.30,328.30 L104.40,328.30 L104.50,328.30 L104.60,328.30 L104.70,328.30 L104.80,328.30 L104.90,328.30 L105.00,328.30 L105.10,328.30 L105.20,328.30 L105.30,328.30 L105.40,328.30 L105.50,328.30 L105.60,328.30 L105.70,328.30 L105.80,328.30 L105.90,328.30 L106.00,328.30 L106.10,328.30 L106.20,328.30 L106.30,328.30 L106.40,328.30 L106.50,328.30 L106.60,328.30 L106.70,328.30 L106.80,328.30 L106.90,328.30 L107.00,328.30 L107.10,328.30 L107.20,328.30 L107.30,328.30 L107.40,328.30 L107.50,328.30 L107.60,328.30 L107.70,328.30 L107.80,328.30 L107.90,328.30 L108.00,328.30 L108.10,328.30 L108.20,328.30 L108.30,328.30 L108.40,328.30 L108.50,328.30 L108.60,328.30 L108.70,328.30 L108.80,328.30 L108.90,328.30 L109.00,328.30 L109.10,328.30 L109.20,328.30 L109.30,328.30 L109.40,328.30 L109.50,328.30 L109.60,328.30 L109.70,328.30 L109.80,328.30 L109.90,328.30 L110.00,328.30 L110.10,328.30 L110.20,328.30 L110.30,328.30 L110.40,328.30 L110.50,328.29 L110.60,328.29 L110.70,328.29 L110.80,328.29 L110.90,328.29 L111.00,328.29 L111.10,328.29 L111.20,328.29 L111.30,328.29 L111.40,328.29 L111.50,328.28 L111.60,328.28 L111.70,328.28 L111.80,328.28 L111.90,328.28 L112.00,328.28 L112.10,328.28 L112.20,328.28 L112.30,328.28 L112.40,328.28 L112.50,328.27 L112.60,328.27 L112.70,328.27 L112.80,328.27 L112.90,328.27 L113.00,328.27 L113.10,328.27 L113.20,328.27 L113.30,328.27 L113.40,328.27 L113.50,328.26 L113.60,328.26 L113.70,328.26 L113.80,328.26 L113.90,328.26 L114.00,328.26 L114.10,328.26 L114.20,328.26 L114.30,328.26 L114.40,328.26 L114.50,328.25 L114.60,328.25 L114.70,328.25 L114.80,328.25 L114.90,328.25 L115.00,328.25 L115.10,328.25 L115.20,328.25 L115.30,328.25 L115.40,328.25 L115.50,328.25 L115.60,328.24 L115.70,328.24 L115.80,328.24 L115.90,328.24 L116.00,328.24 L116.10,328.24 L116.20,328.24 L116.30,328.24 L116.40,328.24 L116.50,328.24 L116.60,328.23 L116.70,328.23 L116.80,328.23 L116.90,328.23 L117.00,328.23 L117.10,328.23 L117.20,328.23 L117.30,328.23 L117.40,328.23 L117.50,328.22 L117.60,328.22 L117.70,328.22 L117.80,328.22 L117.90,328.22 L118.00,328.22 L118.10,328.22 L118.20,328.22 L118.30,328.22 L118.40,328.22 L118.50,328.21 L118.60,328.21 L118.70,328.21 L118.80,328.21 L118.90,328.21 L119.00,328.21 L119.10,328.21 L119.20,328.21 L119.30,328.21 L119.40,328.21 L119.50,328.20 L119.60,328.20 L119.70,328.20 L119.80,328.20 L119.90,328.20 L120.00,328.20 L120.10,328.21 L120.20,328.21 L120.30,328.22 L120.40,328.22 L120.50,328.23 L120.60,328.23 L120.70,328.24 L120.80,328.25 L120.90,328.25 L121.00,328.26 L121.10,328.26 L121.20,328.27 L121.30,328.27 L121.40,328.28 L121.50,328.29 L121.60,328.29 L121.70,328.30 L121.80,328.30 L121.90,328.31 L122.00,328.31 L122.10,328.32 L122.20,328.33 L122.30,328.33 L122.40,328.34 L122.50,328.34 L122.60,328.35 L122.70,328.35 L122.80,328.36 L122.90,328.37 L123.00,328.37 L123.10,328.38 L123.20,328.38 L123.30,328.39 L123.40,328.39 L123.50,328.41 L123.60,328.44 L123.70,328.49 L123.80,328.53 L123.90,328.58 L124.00,328.62 L124.10,328.66 L124.20,328.71 L124.30,328.75 L124.40,328.80 L124.50,328.84 L124.60,328.88 L124.70,328.93 L124.80,328.97 L124.90,329.02 L125.00,329.06 L125.10,329.10 L125.20,329.15 L125.30,329.19 L125.40,329.24 L125.50,329.28 L125.60,329.32 L125.70,329.37 L125.80,329.41 L125.90,329.46 L126.00,329.53 L126.10,329.63 L126.20,329.75 L126.30,329.88 L126.40,330.00 L126.50,330.13 L126.60,330.25 L126.70,330.38 L126.80,330.50 L126.90,330.63 L127.00,330.75 L127.10,330.88 L127.20,331.00 L127.30,331.13 L127.40,331.25 L127.50,331.38 L127.60,331.50 L127.70,331.63 L127.80,331.75 L127.90,331.88 L128.00,332.13 L128.10,332.50 L128.20,333.00 L128.30,333.50 L128.40,334.00 L128.50,334.50 L128.60,335.00 L128.70,335.50 L128.80,336.00 L128.90,336.50 L129.00,337.00 L129.10,337.50 L129.20,338.00 L129.30,338.50 L129.40,339.00 L129.50,339.50 L129.60,340.00 L129.70,340.50 L129.80,341.00 L129.90,341.50 L130.00,342.04 L130.10,342.62 L130.20,343.23 L130.30,343.85 L130.40,344.46 L130.50,345.08 L130.60,345.69 L130.70,346.31 L130.80,346.92 L130.90,347.54 L131.00,348.15 L131.10,348.77 L131.20,349.38 L131.30,350.01 L131.40,350.64 L131.50,351.27 L131.60,351.91 L131.70,352.55 L131.80,353.18 L131.90,353.82 L132.00,354.45 L132.10,355.09 L132.20,355.73 L132.30,356.36 L132.40,357.20 L132.50,358.25 L132.60,359.50 L132.70,360.75 L132.80,362.00 L132.90,363.25 L133.00,364.50 L133.10,365.75 L133.20,367.00 L133.30,368.25 L133.40,369.50 L133.50,370.75 L133.60,373.25 L133.70,377.00 L133.80,382.00 L133.90,387.00 L134.00,392.33 L134.10,398.00 L134.20,404.00 L134.30,409.37 L134.40,414.10 L134.50,418.20 L134.60,422.30 L134.70,426.40 L134.80,429.13 L135.60,408.00 L136.30,397.50 L136.90,395.60 L137.30,414.00 L137.90,401.00 L138.50,417.00 L139.10,403.00 L139.60,401.20 L140.20,418.00 L140.90,405.00 L141.50,419.00 L142.10,407.00 L142.50,406.50 L143.10,419.00 L143.90,422.50 L145.50,428.30 L146.20,430.50 L146.40,429.84 L146.60,429.97 L146.80,430.20" style="stroke-width:2.1"/>
<path class="c" d="M146.40,429.84 L146.60,429.97 L146.80,430.20 L147.00,430.51 L147.20,430.90 L147.40,431.36 L147.60,431.86 L147.80,432.41 L148.00,432.98 L148.20,433.55 L148.40,434.09 L148.60,434.60 L148.80,435.05 L149.00,435.42 L149.20,435.70 L149.40,435.87 L149.60,435.92 L149.80,435.84 L150.00,435.63 L150.20,435.34 L150.40,434.91 L150.60,434.37 L150.80,433.73 L151.00,432.99 L151.20,432.19 L151.40,431.34 L151.60,430.47 L151.80,429.61 L152.00,428.77 L152.20,428.03 L152.40,427.39 L152.60,426.86 L152.80,426.46 L153.00,426.20 L153.20,426.09 L153.40,426.13 L153.60,426.32 L153.80,426.65 L154.00,427.12 L154.20,427.71 L154.40,428.40 L154.60,429.18 L154.80,430.02 L155.00,430.89 L155.20,431.78 L155.40,432.65 L155.60,433.49 L155.80,434.27 L156.00,434.96 L156.20,435.55 L156.40,436.01 L156.60,436.34 L156.80,436.52 L157.00,436.55 L157.20,436.42 L157.40,436.14 L157.60,435.72 L157.80,435.16 L158.00,434.48 L158.20,433.70 L158.40,432.84 L158.60,431.92 L158.80,430.97 L159.00,430.01 L159.20,429.07 L159.40,428.18 L159.60,427.36 L159.80,426.64 L160.00,426.04 L160.20,425.55 L160.40,425.20 L160.60,425.02 L160.80,425.00 L161.00,425.16 L161.20,425.48 L161.40,425.96 L161.60,426.59 L161.80,427.35 L162.00,428.22 L162.20,429.18 L162.40,430.19 L162.60,431.24 L162.80,432.29 L163.00,433.30 L163.20,434.25 L163.40,435.11 L163.60,435.85 L163.80,436.45 L164.00,436.88 L164.20,437.13 L164.40,437.19 L164.60,437.06 L164.80,436.72 L165.00,436.19 L165.20,435.47 L165.40,434.59 L165.60,433.56 L165.80,432.42 L166.00,431.19 L166.20,429.90 L166.40,428.59 L166.60,427.30 L166.80,426.07 L167.00,424.93 L167.20,423.91 L167.40,423.05 L167.60,422.37 L167.80,421.90 L168.00,421.65 L168.20,421.63 L168.40,421.85 L168.60,422.30 L168.80,422.97 L169.00,423.85 L169.20,424.91 L169.40,426.13 L169.60,427.46 L169.80,428.87 L170.00,430.32 L170.20,431.77 L170.40,433.17 L170.60,434.48 L170.80,435.66 L171.00,436.67 L171.20,437.47 L171.40,438.05 L171.60,438.39 L171.80,438.45 L172.00,438.21 L172.20,437.67 L172.40,436.82 L172.60,435.66 L172.80,434.21 L173.00,432.52 L173.20,430.62 L173.40,428.59 L173.60,426.50 L173.80,424.46 L174.00,422.57 L174.20,420.96 L174.40,419.73 L174.60,418.98 L174.80,418.79 L175.00,419.23 L175.20,420.37 L175.40,422.14 L175.60,424.43 L175.80,427.04 L176.00,429.79 L176.20,432.46 L176.40,434.86 L176.60,436.79 L176.80,438.12 L177.00,438.74 L177.20,438.60 L177.40,437.71 L177.60,436.15 L177.80,434.02 L178.00,431.50 L178.20,428.79 L178.40,426.09 L178.60,423.62 L178.80,421.57 L179.00,420.10 L179.20,419.34 L179.40,419.34 L179.60,420.09 L179.80,421.54 L180.00,423.58 L180.20,426.02 L180.40,428.69 L180.60,431.35 L180.80,433.79 L181.00,435.81 L181.20,437.26 L181.40,438.00 L181.60,437.99 L181.80,437.22 L182.00,435.77 L182.20,433.75 L182.40,431.35 L182.60,428.75 L182.80,426.19 L183.00,423.88 L183.20,422.02 L183.40,420.76 L183.60,420.21 L183.80,420.42 L184.00,421.35 L184.20,422.94 L184.40,425.03 L184.60,427.45 L184.80,429.98 L185.00,432.39 L185.20,434.47 L185.40,436.04 L185.60,436.95 L185.80,437.14 L186.00,436.59 L186.20,435.36 L186.40,433.57 L186.60,431.38 L186.80,429.00 L187.00,426.63 L187.20,424.51 L187.40,422.82 L187.60,421.72 L187.80,421.30 L188.00,421.60 L188.20,422.59 L188.40,424.17 L188.60,426.19 L188.80,428.45 L189.00,430.75 L189.20,432.86 L189.40,434.58 L189.60,435.75 L189.80,436.26 L190.00,436.06 L190.20,435.25 L190.40,433.84 L190.60,431.98 L190.80,429.86 L191.00,427.71 L191.20,425.73 L191.40,424.13 L191.60,423.09 L191.80,422.70 L192.00,423.03 L192.20,424.03 L192.40,425.62 L192.60,427.64 L192.80,429.91 L193.00,432.19 L193.20,434.26 L193.40,435.93 L193.60,437.01 L193.80,437.42 L194.00,437.11 L194.20,436.13 L194.40,434.58 L194.60,432.62 L194.80,430.48 L195.00,428.38 L195.20,426.56 L195.40,425.21 L195.60,424.49 L195.80,424.49 L196.00,425.22 L196.20,426.62 L196.40,428.55 L196.60,430.80 L196.80,433.16 L197.00,435.36 L197.20,437.18 L197.40,438.43 L197.60,438.97 L197.80,438.75 L198.00,437.79 L198.20,436.21 L198.40,434.18 L198.60,431.94 L198.80,429.75 L199.00,427.86 L199.20,426.50 L199.40,425.83 L199.60,425.95 L199.80,426.85 L200.00,428.45 L200.20,430.50 L200.40,432.86 L200.60,435.26 L200.80,437.41 L201.00,439.08 L201.20,440.08 L201.40,440.28 L201.60,439.67 L201.80,438.30 L202.00,436.34 L202.20,434.01 L202.40,431.57 L202.60,429.32 L202.80,427.51 L203.00,426.35 L203.20,425.98 L203.40,426.45 L203.60,427.72 L203.80,429.64 L204.00,431.99 L204.20,434.52 L204.40,436.92 L204.60,438.93 L204.80,440.32 L205.00,440.93 L205.20,440.68 L205.40,439.61 L205.60,437.85 L205.80,435.59 L206.00,433.09 L206.20,430.66 L206.40,428.56 L206.60,427.05 L206.80,426.30 L207.00,426.39 L207.20,427.32 L207.40,428.99 L207.60,431.20 L207.80,433.69 L208.00,436.20 L208.20,438.42 L208.40,440.10 L208.60,441.07 L208.80,441.20 L209.00,440.49 L209.20,439.03 L209.40,436.99 L209.60,434.61 L209.80,432.17 L210.00,429.95 L210.20,428.20 L210.40,427.13 L210.60,426.86 L210.80,427.42 L211.00,428.74 L211.20,430.66 L211.40,432.97 L211.60,435.39 L211.80,437.65 L212.00,439.50 L212.20,440.72 L212.40,441.19 L212.60,440.86 L212.80,439.77 L213.00,438.07 L213.20,435.95 L213.40,433.66 L213.60,431.48 L213.80,429.65 L214.00,428.37 L214.20,427.81 L214.40,428.00 L214.60,428.94 L214.80,430.49 L215.00,432.49 L215.20,434.67 L215.40,436.80 L215.60,438.63 L215.80,439.95 L216.00,440.63 L216.20,440.60 L216.40,439.88 L216.60,438.55 L216.80,436.79 L217.00,434.80 L217.20,432.82 L217.40,431.07 L217.60,429.75 L217.80,429.00 L218.00,428.90 L218.20,429.44 L218.40,430.56 L218.60,432.11 L218.80,433.92 L219.00,435.76 L219.20,437.43 L219.40,438.75 L219.60,439.56 L219.80,439.78 L220.00,439.41 L220.20,438.49 L220.40,437.13 L220.60,435.51 L220.80,433.81 L221.00,432.23 L221.20,430.94 L221.40,430.09 L221.60,429.77 L221.80,430.01 L222.00,430.77 L222.20,431.94 L222.40,433.42 L222.60,435.02 L222.80,436.58 L223.00,437.91 L223.20,438.86 L223.40,439.32 L223.60,439.24 L223.80,438.62 L224.00,437.54 L224.20,436.12 L224.40,434.53 L224.60,432.95 L224.80,431.56 L225.00,430.52 L225.20,429.95 L225.40,429.93 L225.60,430.45 L225.80,431.46 L226.00,432.85 L226.20,434.45 L226.40,436.09 L226.60,437.57 L226.80,438.72 L227.00,439.41 L227.20,439.56 L227.40,439.14 L227.60,438.19 L227.80,436.84 L228.00,435.22 L228.20,433.52 L228.40,431.94 L228.60,430.67 L228.80,429.86 L229.00,429.60 L229.20,429.93 L229.40,430.82 L229.60,432.18 L229.80,433.84 L230.00,435.62 L230.20,437.32 L230.40,438.73 L230.60,439.69 L230.80,440.08 L231.00,439.85 L231.20,439.02 L231.40,437.68 L231.60,435.98 L231.80,434.12 L232.00,432.30 L232.20,430.75 L232.40,429.65 L232.60,429.13 L232.80,429.26 L233.00,430.04 L233.20,431.37 L233.40,433.12 L233.60,435.08 L233.80,437.03 L234.00,438.73 L234.20,439.99 L234.40,440.66 L234.60,440.64 L234.80,439.94 L235.00,438.62 L235.20,436.84 L235.40,434.81 L235.60,432.76 L235.80,430.94 L236.00,429.56 L236.20,428.79 L236.40,428.71 L236.60,429.35 L236.80,430.62 L237.00,432.39 L237.20,434.45 L237.40,436.56 L237.60,438.48 L237.80,439.97 L238.00,440.87 L238.20,441.06 L238.40,440.53 L238.60,439.33 L238.80,437.60 L239.00,435.55 L239.20,433.42 L239.40,431.44 L239.60,429.87 L239.80,428.87 L240.00,428.58 L240.20,429.01 L240.40,430.13 L240.60,431.80 L240.80,433.83 L241.00,435.97 L241.20,437.99 L241.40,439.63 L241.60,440.72 L241.80,441.12 L242.00,440.80 L242.20,439.78 L242.40,438.20 L242.60,436.23 L242.80,434.12 L243.00,432.11 L243.20,430.44 L243.40,429.29 L243.60,428.80 L243.80,429.03 L244.00,429.95 L244.20,431.43 L244.40,433.32 L244.60,435.38 L244.80,437.37 L245.00,439.06 L245.20,440.26 L245.40,440.82 L245.60,440.70 L245.80,439.90 L246.00,438.54 L246.20,436.76 L246.40,434.79 L246.60,432.86 L246.80,431.19 L247.00,429.97 L247.20,429.35 L247.40,429.38 L247.60,430.07 L247.80,431.32 L248.00,432.98 L248.20,434.86 L248.40,436.73 L248.60,438.38 L248.80,439.61 L249.00,440.28 L249.20,440.34 L249.40,439.77 L249.60,438.65 L249.80,437.11 L250.00,435.35 L250.20,433.56 L250.40,431.96 L250.60,430.73 L250.80,430.00 L251.00,429.87 L251.20,430.34 L251.40,431.35 L251.60,432.77 L251.80,434.44 L252.00,436.16 L252.20,437.73 L252.40,438.97 L252.60,439.73 L252.80,439.93 L253.00,439.56 L253.20,438.65 L253.40,437.33 L253.60,435.74 L253.80,434.08 L254.00,432.54 L254.20,431.30 L254.40,430.50 L254.60,430.23 L254.80,430.53 L255.00,431.34 L255.20,432.58 L255.40,434.09 L255.60,435.70 L255.80,437.22 L256.00,438.48 L256.20,439.32 L256.40,439.65 L256.60,439.44 L256.80,438.70 L257.00,437.54 L257.20,436.07 L257.40,434.49 L257.60,432.97 L257.80,431.69 L258.00,430.80 L258.20,430.40 L258.40,430.55 L258.60,431.22 L258.80,432.33 L259.00,433.76 L259.20,435.33 L259.40,436.87 L259.60,438.19 L259.80,439.14 L260.00,439.61 L260.20,439.53 L260.40,438.92 L260.60,437.84 L260.80,436.43 L261.00,434.83 L261.20,433.26 L261.40,431.88 L261.60,430.86 L261.80,430.32 L262.00,430.33 L262.20,430.90 L262.40,431.95 L262.60,433.38 L262.80,435.00 L263.00,436.63 L263.20,438.09 L263.40,439.19 L263.60,439.80 L263.80,439.85 L264.00,439.32 L264.20,438.28 L264.40,436.84 L264.60,435.17 L264.80,433.47 L265.00,431.93 L265.20,430.75 L265.40,430.06 L265.60,429.95 L265.80,430.44 L266.00,431.47 L266.20,432.93 L266.40,434.66 L266.60,436.43 L266.80,438.06 L267.00,439.33 L267.20,440.10 L267.40,440.27 L267.60,439.81 L267.80,438.78 L268.00,437.29 L268.20,435.52 L268.40,433.67 L268.60,431.97 L268.80,430.61 L269.00,429.77 L269.20,429.54 L269.40,429.96 L269.60,430.98 L269.80,432.48 L270.00,434.30 L270.20,436.21 L270.40,437.98 L270.60,439.42 L270.80,440.33 L271.00,440.62 L271.20,440.23 L271.40,439.23 L271.60,437.72 L271.80,435.87 L272.00,433.92 L272.20,432.09 L272.40,430.60 L272.60,429.63 L272.80,429.29 L273.00,429.63 L273.20,430.61 L273.40,432.12 L273.60,433.97 L273.80,435.94 L274.00,437.80 L274.20,439.34 L274.40,440.35 L274.60,440.73 L274.80,440.43 L275.00,439.49 L275.20,438.01 L275.40,436.17 L275.60,434.20 L275.80,432.33 L276.00,430.78 L276.20,429.73 L276.40,429.31 L276.60,429.57 L276.80,430.48 L277.00,431.91 L277.20,433.71 L277.40,435.66 L277.60,437.51 L277.80,439.06 L278.00,440.12 L278.20,440.57 L278.40,440.35 L278.60,439.50 L278.80,438.12 L279.00,436.38 L279.20,434.48 L279.40,432.66 L279.60,431.13 L279.80,430.07 L280.00,429.61 L280.20,429.78 L280.40,430.58 L280.60,431.89 L280.80,433.56 L281.00,435.39 L281.20,437.16 L281.40,438.65 L281.60,439.70 L281.80,440.18 L282.00,440.04 L282.20,439.31 L282.40,438.06 L282.60,436.47 L282.80,434.72 L283.00,433.02 L283.20,431.57 L283.40,430.54 L283.60,430.05 L283.80,430.15 L284.00,430.83 L284.20,431.99 L284.40,433.51 L284.60,435.18 L284.80,436.82 L285.00,438.23 L285.20,439.24 L285.40,439.73 L285.60,439.66 L285.80,439.04 L286.00,437.94 L286.20,436.50 L286.40,434.90 L286.60,433.32 L286.80,431.95 L287.00,430.96 L287.20,430.45 L287.40,430.49 L287.60,431.07 L287.80,432.11 L288.00,433.48 L288.20,435.03 L288.40,436.57 L288.60,437.90 L288.80,438.89 L289.00,439.41 L289.20,439.40 L289.40,438.86 L289.60,437.87 L289.80,436.54 L290.00,435.03 L290.20,433.52 L290.40,432.19 L290.60,431.20 L290.80,430.67 L291.00,430.65 L291.20,431.16 L291.40,432.12 L291.60,433.43 L291.80,434.92 L292.00,436.43 L292.20,437.76 L292.40,438.77 L292.60,439.32 L292.80,439.36 L293.00,438.88 L293.20,437.93 L293.40,436.63 L293.60,435.12 L293.80,433.60 L294.00,432.24 L294.20,431.21 L294.40,430.62 L294.60,430.56 L294.80,431.03 L295.00,431.98 L295.20,433.30 L295.40,434.83 L295.60,436.40 L295.80,437.80 L296.00,438.88 L296.20,439.49 L296.40,439.57 L296.60,439.10 L296.80,438.14 L297.00,436.78 L297.20,435.20 L297.40,433.59 L297.60,432.13 L297.80,431.00 L298.00,430.35 L298.20,430.26 L298.40,430.73 L298.60,431.73 L298.80,433.12 L299.00,434.76 L299.20,436.44 L299.40,437.96 L299.60,439.14 L299.80,439.82 L300.00,439.93 L300.20,439.45 L300.40,438.42 L300.60,436.97 L300.80,435.27 L301.00,433.52 L301.20,431.94 L301.40,430.72 L301.60,430.00 L301.80,429.89 L302.00,430.39 L302.20,431.45 L302.40,432.95 L302.60,434.71 L302.80,436.51 L303.00,438.15 L303.20,439.41 L303.40,440.15 L303.60,440.27 L303.80,439.75 L304.00,438.66 L304.20,437.11 L304.40,435.31 L304.60,433.45" style="stroke-width:1.65"/>
<text class="b" x="278.3" y="26.2">a</text>
<text class="b" x="285.2" y="314">b</text>
<text class="b" x="156.5" y="264.6">z k<tspan font-size="9.5" dy="2.5">w</tspan><tspan dy="-2.5">(0)</tspan></text>
<text class="b" x="157.5" y="551">z k<tspan font-size="9.5" dy="2.5">w</tspan><tspan dy="-2.5">(0)</tspan></text>
<text class="b" transform="translate(17.2,150.6) rotate(-90)">Efficiency %</text>
<text class="b" transform="translate(11.2,427.6) rotate(-90)">Γ<tspan font-size="9.5" dy="2.5">+</tspan><tspan dy="-2.5"> / k</tspan><tspan font-size="9.5" dy="2.5">w</tspan><tspan dy="-2.5">(0)</tspan></text>
<text class="b" transform="translate(327.5,80.3) rotate(90)">k<tspan font-size="9.5" dy="2.5">w</tspan><tspan dy="-2.5">(z) / k</tspan><tspan font-size="9.5" dy="2.5">w</tspan><tspan dy="-2.5">(0)</tspan></text>
</svg>
</body></html>
